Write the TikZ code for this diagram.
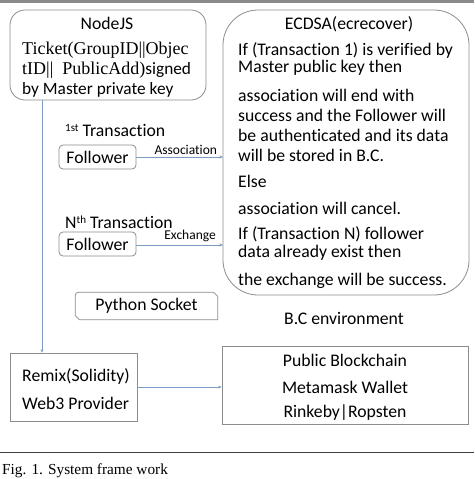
\documentclass[tikz,border=0pt]{standalone}
\usepackage{fontspec}
\setmainfont{Carlito}[Ligatures=NoCommon]
\newfontfamily\serifx{Liberation Serif}
\usetikzlibrary{arrows.meta}
\definecolor{boxgray}{HTML}{8C8C8C}
\definecolor{arrowblue}{HTML}{7C9CC4}
\definecolor{topbar}{HTML}{8A8A8A}
\tikzset{
  txt/.style={inner sep=0pt, font=\fontsize{17.7}{19}\selectfont},
  midtxt/.style={inner sep=0pt, font=\fontsize{17.3}{19}\selectfont},
  smalltxt/.style={inner sep=0pt, font=\fontsize{13.5}{15}\selectfont},
  roundbox/.style={draw=boxgray, line width=0.8pt, rounded corners=#1},
  plainbox/.style={draw=boxgray, line width=0.8pt},
  conn/.style={draw=arrowblue, line width=0.8pt, -{Stealth[length=3.5pt,width=3pt]}},
}
\begin{document}
\begin{tikzpicture}[x=1pt,y=-1pt]
\useasboundingbox (0,0) rectangle (474,479);
\fill[topbar] (0,0) rectangle (474,3);
% NodeJS box
\draw[roundbox=15pt] (10,10) rectangle (206,100);
\node[txt] (nodejs) at (107,23) {NodeJS};
\node[midtxt, anchor=west] (t1) at (22,50) {\serifx\fontsize{18}{19}\selectfont Ticket(GroupID||Objec};
\node[midtxt, anchor=west] (t2) at (22,70.5) {{\serifx\fontsize{18}{19}\selectfont tID|| \ PublicAdd)}signed};
\node[midtxt, anchor=west] (t3) at (22,90) {by Master private key};
\coordinate (nodejsbottom) at (42,100);
% ECDSA box
\draw[roundbox=35pt] (223,10) rectangle (469,295);
\coordinate (ecdsaleft1) at (223,157);
\coordinate (ecdsaleft2) at (223,245);
\node[txt] (ecdsa) at (349,24) {ECDSA(ecrecover)};
\node[txt, anchor=west] (e1) at (238,50) {If (Transaction 1) is verified by};
\node[txt, anchor=west] (e2) at (238,68) {Master public key then};
\node[txt, anchor=west] (e3) at (238,95) {association will end with};
\node[txt, anchor=west] (e4) at (238,115) {success and the Follower will};
\node[txt, anchor=west] (e5) at (238,135) {be authenticated and its data};
\node[txt, anchor=west] (e6) at (238,155) {will be stored in B.C.};
\node[txt, anchor=west] (e7) at (238,181) {Else};
\node[txt, anchor=west] (e8) at (238,208) {association will cancel.};
\node[txt, anchor=west] (e9) at (238,234) {If (Transaction N) follower};
\node[txt, anchor=west] (e10) at (238,253) {data already exist then};
\node[txt, anchor=west] (e11) at (238,281) {the exchange will be success.};
% Transactions
\node[txt, anchor=west] (tr1) at (65,130) {{\fontsize{11}{12}\selectfont\raisebox{5pt}{1st}} Transaction};
\node[txt, roundbox=4pt, minimum width=77pt, minimum height=24pt] (f1) at (97.5,157) {Follower};
\node[txt, anchor=west] (trn) at (65,222) {N{\fontsize{11}{12}\selectfont\raisebox{5pt}{th}} Transaction};
\node[txt, roundbox=4pt, minimum width=77pt, minimum height=24pt] (f2) at (97.5,244) {Follower};
\draw[conn] (f1.east) -- (ecdsaleft1) node[smalltxt, pos=0.57, above=2.5pt] (assoc) {Association};
\draw[conn] (f2.east |- ecdsaleft2) -- (ecdsaleft2) node[smalltxt, pos=0.62, above=2.5pt] (exch) {Exchange};
% Python socket
\node[txt, minimum width=142pt, minimum height=27pt] (py) at (146.5,306) {Python Socket};
\draw[draw=boxgray, line width=0.8pt] ([xshift=3pt]py.north west) -- ([xshift=-4pt]py.north east) -- ([yshift=-4pt]py.north east) -- (py.south east) -- ([xshift=4pt]py.south west) -- ([yshift=4pt]py.south west) -- ([yshift=-3pt]py.north west) to[bend left=45] ([xshift=3pt]py.north west);
\node[txt] (bcenv) at (344,318) {B.C environment};
% Remix box
\node[plainbox, minimum width=127pt, minimum height=68pt, inner sep=0pt] (remix) at (73.5,387) {};
\node[txt, anchor=west] (r1) at (22,376) {Remix(Solidity)};
\node[txt, anchor=west] (r2) at (22,403) {Web3 Provider};
% Right box
\node[plainbox, minimum width=246pt, minimum height=78pt, inner sep=0pt] (bc) at (345,385) {};
\node[txt] (b1) at (345,360) {Public Blockchain};
\node[txt] (b2) at (345,387) {Metamask Wallet};
\node[txt] (b3) at (345,413) {Rinkeby|Ropsten};
% connectors
\draw[conn] (nodejsbottom) -- (nodejsbottom |- remix.north);
\draw[conn] (remix.east |- b2) -- (bc.west |- b2);
% caption
\draw[draw=black!75, line width=1pt] (0,452) -- (474,452);
\node[inner sep=0pt, anchor=west, font=\serifx\fontsize{15.3}{17}\selectfont] (cap) at (2,471) {Fig. 1. System frame work};
\end{tikzpicture}
\end{document}
